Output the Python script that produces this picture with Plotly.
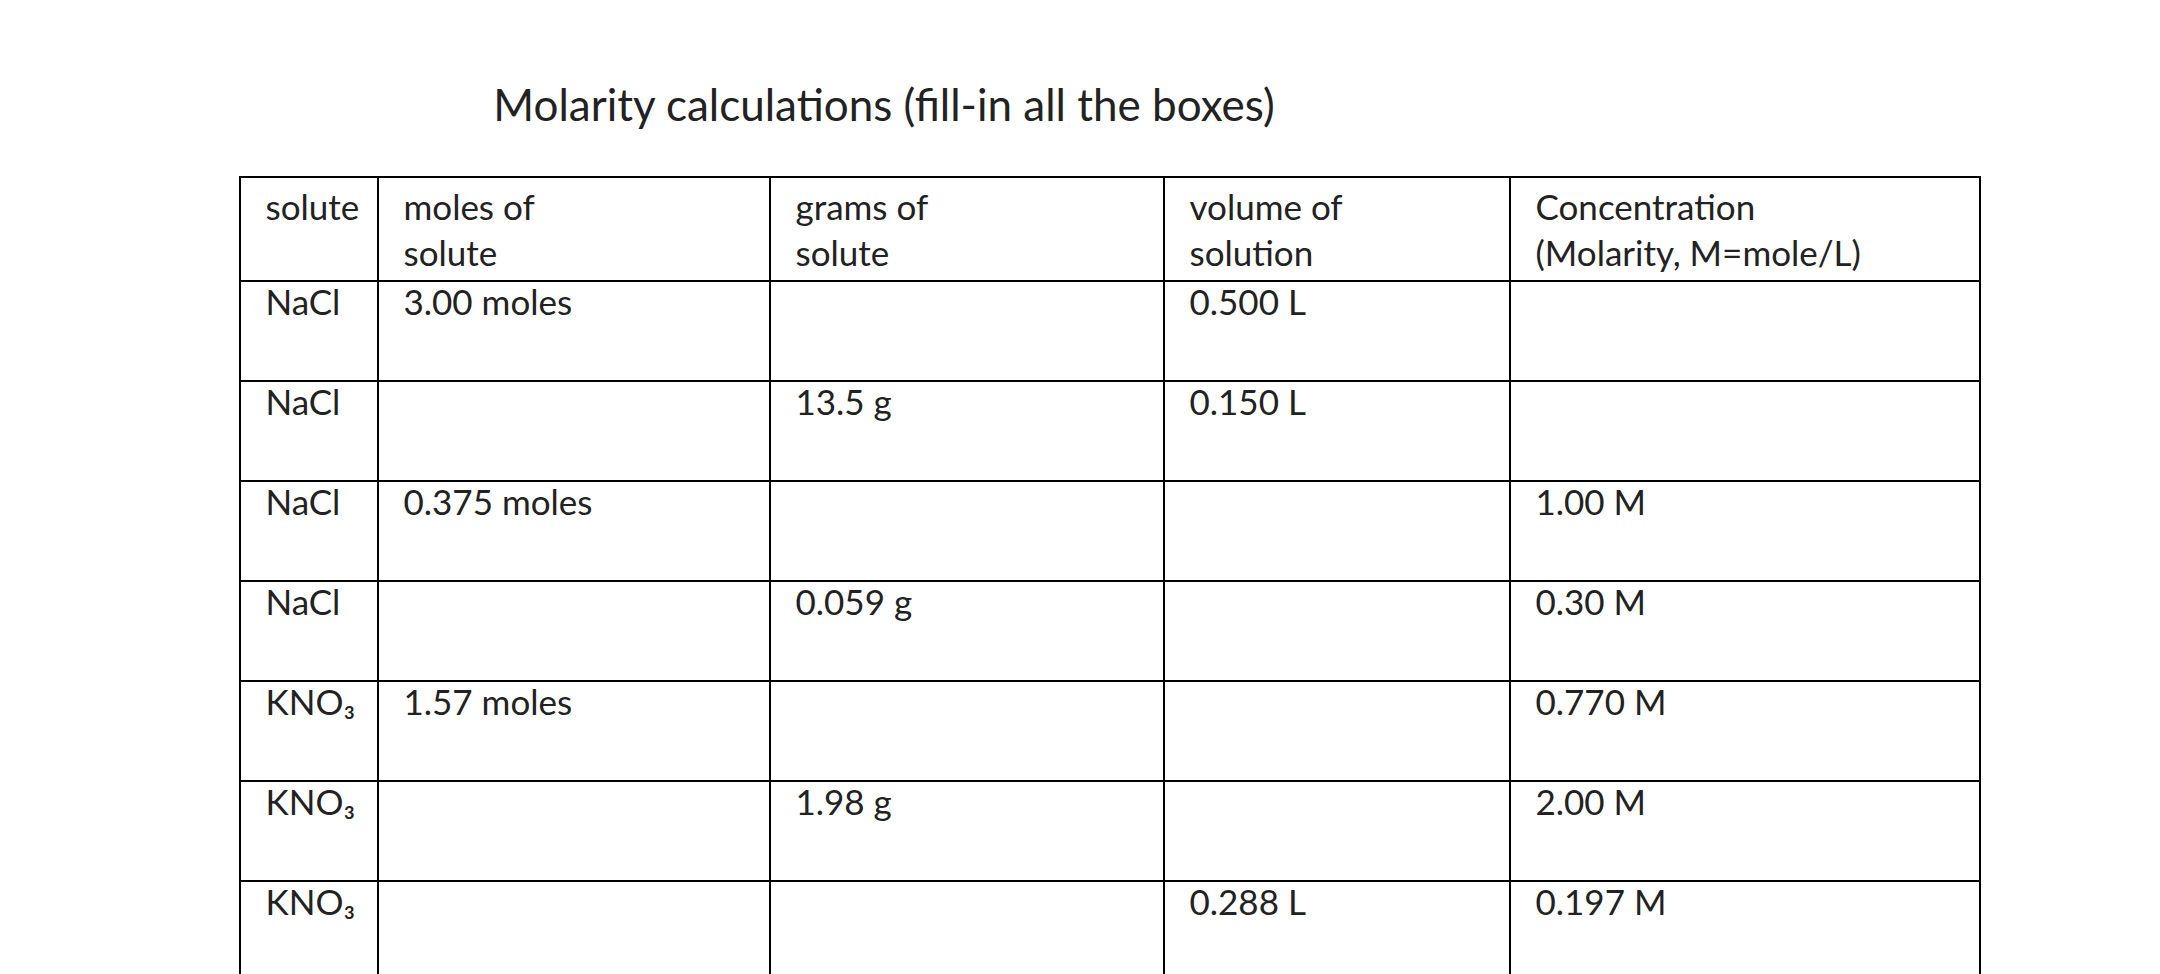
import plotly.graph_objects as go

title = "Molarity calculations (fill-in all the boxes)"
headers = ["solute<br> ", "moles of<br>solute", "grams of<br>solute", "volume of<br>solution", "Concentration<br>(Molarity, M=mole/L)"]
solute = ["NaCl", "NaCl", "NaCl", "NaCl", "KNO₃", "KNO₃", "KNO₃"]
moles = ["3.00 moles", "", "0.375 moles", "", "1.57 moles", "", ""]
grams = ["", "13.5 g", "", "0.059 g", "", "1.98 g", ""]
volume = ["0.500 L", "0.150 L", "", "", "", "", "0.288 L"]
conc = ["", "", "1.00 M", "0.30 M", "0.770 M", "2.00 M", "0.197 M"]

W, H = 2160, 974
colw = [138, 392, 394, 346, 470]
font = dict(family="Lato, Open Sans, sans-serif", size=35, color="#222")
pad = "\u2002"


def padded(col):
    return [pad + v if v else v for v in col]


fig = go.Figure(go.Table(
    domain=dict(x=[232 / W, 1972 / W], y=[0, 1 - 169 / H]),
    columnwidth=colw,
    header=dict(values=[pad + h.replace("<br>", "<br>" + pad) for h in headers], align="left", font=font,
                height=98, line=dict(color="black", width=2), fill=dict(color="white")),
    cells=dict(values=[padded(c) for c in [solute, moles, grams, volume, conc]], align="left", font=font,
               height=100, line=dict(color="black", width=2), fill=dict(color="white")),
))
fig.update_layout(
    width=W, height=H, margin=dict(l=0, r=0, t=0, b=0), paper_bgcolor="white",
    title=dict(text=title, x=876 / W, xanchor="center", y=1 - 98 / H, yanchor="middle",
               font=dict(family="Lato, Open Sans, sans-serif", size=44, color="#222")),
)
fig.write_html("out.html")
